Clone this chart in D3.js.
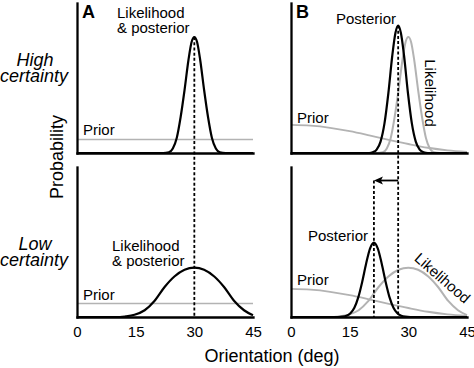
<!DOCTYPE html>
<html>
<head>
<meta charset="utf-8">
<script src="https://cdn.jsdelivr.net/npm/d3@7"></script>
<style>
  body { margin: 0; background: #fff; }
  svg { display: block; font-family: "Liberation Sans", Arial, sans-serif; }
</style>
</head>
<body>
<svg id="chart" width="474" height="368"></svg>
<script>
// values: [orientation (deg), probability]
var xTicks = [0, 15, 30, 45];

var priorFlat = [[0, 0.09], [45, 0.09]];

var priorBroad = [[0, 0.187], [5, 0.182], [10, 0.168], [15, 0.146], [20, 0.118], [25, 0.088],
    [30, 0.06], [35, 0.035], [40, 0.018], [45, 0.008]];

var likeNarrow = [[0, 0], [22, 0], [23.5, 0.005], [24.5, 0.03], [25.5, 0.1], [26.5, 0.24], [27.5, 0.42],
    [28.5, 0.62], [29.3, 0.74], [30, 0.773], [30.7, 0.74], [31.5, 0.62], [32.5, 0.42], [33.5, 0.24],
    [34.5, 0.1], [35.5, 0.03], [36.5, 0.005], [38, 0], [45, 0]];

var postNarrow = [[0, 0], [20, 0], [20.9, 0.005], [21.9, 0.023], [22.9, 0.076], [23.9, 0.197], [24.9, 0.4],
    [25.9, 0.65], [26.7, 0.8], [27.4, 0.85], [28.1, 0.8], [28.9, 0.65], [29.9, 0.4], [30.9, 0.197],
    [31.9, 0.076], [32.9, 0.023], [33.9, 0.005], [35, 0], [45, 0]];

var likeWide = [[0, 0], [11, 0], [12.5, 0.004], [14.7, 0.015], [17.3, 0.045], [19.8, 0.107], [22.4, 0.2],
    [24.9, 0.27], [27.5, 0.315], [30, 0.329], [32.5, 0.315], [35.1, 0.27], [37.6, 0.2], [40.2, 0.107],
    [42.7, 0.045], [45, 0.012]];

var postWide = [[0, 0], [12, 0], [13.2, 0.002], [14.2, 0.008], [15.2, 0.025], [16.2, 0.062], [17.2, 0.131],
    [18.2, 0.234], [19.2, 0.355], [20.2, 0.456], [21.2, 0.496], [22.2, 0.456], [23.2, 0.355], [24.2, 0.234],
    [25.2, 0.131], [26.2, 0.062], [27.2, 0.025], [28.2, 0.008], [29.2, 0.002], [30.5, 0], [45, 0]];

var meanA = 30;
var postMeanHigh = 27.4;
var postMeanLow = 21.2;

var svg = d3.select("#chart");
var grey = "#b3b3b3";

var xA = d3.scaleLinear().domain([0, 45]).range([77, 253]);
var xB = d3.scaleLinear().domain([0, 45]).range([291, 467]);
var yTop = d3.scaleLinear().domain([0, 1]).range([153, 3]);
var yBot = d3.scaleLinear().domain([0, 1]).range([317, 167]);

function curve(g, x, y, data, color, width) {
    var line = d3.line()
        .x(d => x(d[0]))
        .y(d => y(d[1]))
        .curve(d3.curveMonotoneX);
    g.append("path")
        .datum(data)
        .attr("d", line)
        .attr("fill", "none")
        .attr("stroke", color)
        .attr("stroke-width", width)
        .attr("stroke-linejoin", "round");
}

function axes(x, y, withLabels) {
    var base = y.range()[0];
    var xa = d3.axisBottom(x)
        .tickValues(withLabels ? xTicks : [])
        .tickSize(0)
        .tickSizeOuter(0)
        .tickPadding(9.5);
    var gx = svg.append("g")
        .attr("transform", `translate(0,${base})`)
        .call(xa);
    gx.selectAll("text")
        .attr("font-size", 15)
        .attr("font-family", "Liberation Sans, Arial, sans-serif")
        .attr("fill", "#000");
    var ya = d3.axisLeft(y).tickValues([]).tickSizeOuter(0);
    var gy = svg.append("g")
        .attr("transform", `translate(${x.range()[0]},0)`)
        .call(ya);
    svg.selectAll(".domain")
        .attr("stroke", "#000")
        .attr("stroke-width", 2.3)
        .attr("stroke-linecap", "square");
}

function label(x, y, txt, opts) {
    opts = opts || {};
    var t = svg.append("text")
        .attr("x", x)
        .attr("y", y)
        .attr("font-size", opts.size || 15)
        .attr("fill", "#000")
        .attr("text-anchor", opts.anchor || "start")
        .text(txt);
    if (opts.italic) t.attr("font-style", "italic");
    if (opts.bold) t.attr("font-weight", "bold");
    if (opts.transform) t.attr("transform", opts.transform).attr("x", 0).attr("y", 0);
    return t;
}

// grey curves first, so the baselines sit over their tails
curve(svg, xA, yTop, priorFlat, grey, 1.5);
curve(svg, xA, yBot, priorFlat, grey, 1.5);
curve(svg, xB, yTop, priorBroad, grey, 1.8);
curve(svg, xB, yTop, likeNarrow, grey, 2);
curve(svg, xB, yBot, priorBroad, grey, 1.8);
curve(svg, xB, yBot, likeWide, grey, 2);

axes(xA, yTop, false);
axes(xA, yBot, true);
axes(xB, yTop, false);
axes(xB, yBot, true);

curve(svg, xA, yTop, likeNarrow, "#000", 2.2);
curve(svg, xA, yBot, likeWide, "#000", 2.2);
curve(svg, xB, yTop, postNarrow, "#000", 2.2);
curve(svg, xB, yBot, postWide, "#000", 2.2);

// dashed guide lines
function dashed(x1, y1, y2) {
    svg.append("line")
        .attr("x1", x1).attr("x2", x1)
        .attr("y1", y1).attr("y2", y2)
        .attr("stroke", "#000")
        .attr("stroke-width", 1.8)
        .attr("stroke-dasharray", "3,2.2");
}
dashed(xA(meanA), yTop(0.773), yBot(0));
dashed(xB(postMeanHigh), yTop(0.85), yBot(0));
dashed(xB(postMeanLow), yBot(0.91), yBot(0));

// shift arrow
var arrowY = yBot(0.91);
svg.append("line")
    .attr("x1", xB(postMeanHigh)).attr("x2", xB(postMeanLow) + 6)
    .attr("y1", arrowY).attr("y2", arrowY)
    .attr("stroke", "#000")
    .attr("stroke-width", 1.8);
var tip = xB(postMeanLow);
svg.append("path")
    .attr("d", `M${tip},${arrowY}L${tip + 9},${arrowY - 4}L${tip + 7},${arrowY}L${tip + 9},${arrowY + 4}Z`)
    .attr("fill", "#000");

// panel letters
label(82, 18, "A", {size: 18, bold: true});
label(296, 18, "B", {size: 18, bold: true});

// row labels
label(35, 65.5, "High", {size: 18, italic: true, anchor: "middle"});
label(34, 82, "certainty", {size: 18, italic: true, anchor: "middle"});
label(35, 249.5, "Low", {size: 18, italic: true, anchor: "middle"});
label(34, 265.5, "certainty", {size: 18, italic: true, anchor: "middle"});

// axis titles
label(0, 0, "Probability", {size: 18, anchor: "middle", transform: "translate(63,157) rotate(-90)"});
label(272, 362, "Orientation (deg)", {size: 18, anchor: "middle"});

// panel A text
label(117, 18, "Likelihood");
label(117, 33, "& posterior");
label(83, 135, "Prior");
label(112, 251, "Likelihood");
label(112, 266, "& posterior");
label(83, 300, "Prior");

// panel B text
label(336, 24, "Posterior");
label(297, 123, "Prior");
label(0, 0, "Likelihood", {anchor: "middle", transform: "translate(425,93) rotate(90)"});
label(308, 241, "Posterior");
label(297, 285, "Prior");
label(0, 0, "Likelihood", {anchor: "middle", transform: "translate(439,282) rotate(41)"});
</script>
</body>
</html>
